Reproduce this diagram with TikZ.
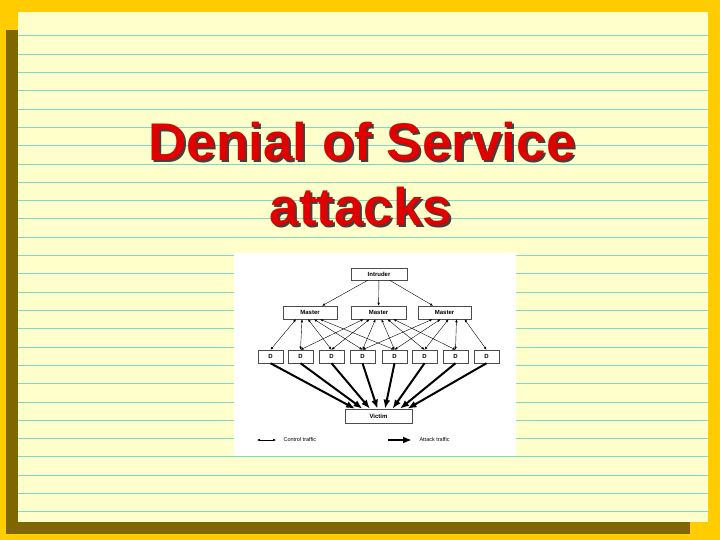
\documentclass[tikz,border=0pt]{standalone}
\usepackage{fontspec}
\setmainfont{Liberation Sans}
\usetikzlibrary{arrows.meta, positioning}
\definecolor{frame}{HTML}{FFCC00}
\definecolor{shadowbrown}{HTML}{806600}
\definecolor{paper}{HTML}{FFFFCC}
\definecolor{rule}{HTML}{7FD8C8}
\definecolor{titlered}{HTML}{E00000}
\begin{document}
\begin{tikzpicture}[x=1pt,y=-1pt]
	\tikzstyle{Box} = [
		draw=black!70, 
		fill=white,
		line width=0.5pt,
		inner sep=0pt,
		font=\fontsize{6}{6}\selectfont\bfseries
	]
	\tikzstyle{Ctrl} = [{Latex[length=3pt,width=2.5pt]}-{Latex[length=3pt,width=2.5pt]}, line width=0.4pt]
	\tikzstyle{Attack} = [-{Latex[length=9pt,width=7pt]}, line width=2pt]
	\tikzstyle{Title} = [font=\fontsize{53}{53}\selectfont\bfseries]

	%%%%%%%%%%===---BACKGROUND---===%%%%%%%%%%
	\fill[frame] (0,0) rectangle (720,540);
	\fill[shadowbrown] (6,30) rectangle (690,534);
	\fill[paper] (18,12) rectangle (708,522);
	\foreach \i in {0,...,26}
		\draw[rule, line width=1pt] (18,36+18.3*\i) -- (708,36+18.3*\i);

	%%%%%%%%%%===---TITLE---===%%%%%%%%%%
	\node (title1shadow) [Title, text=black!75] at (364,144) {Denial of Service};
	\node (title1) [Title, text=titlered] at (362,142) {Denial of Service};
	\node (title2shadow) [Title, text=black!75] at (363,209) {attacks};
	\node (title2) [Title, text=titlered] at (361,207) {attacks};

	%%%%%%%%%%===---DIAGRAM---===%%%%%%%%%%
	\fill[white] (234,253) rectangle (516,456);
	\node (intruder) [Box, minimum width=56pt, minimum height=12pt] at (379,274) {Intruder};
	\node (m1) [Box, minimum width=54pt, minimum height=13pt] at (310,312.5) {Master};
	\node (m2) [Box, minimum width=55pt, minimum height=13pt] at (378.5,312.5) {Master};
	\node (m3) [Box, minimum width=53pt, minimum height=13pt] at (444.5,312.5) {Master};
	\foreach \x [count=\i] in {270.5,300.5,331.5,362.5,394.5,424.5,455.5,486.5}
		\node (d\i) [Box, minimum width=25pt, minimum height=13pt] at (\x,356.5) {D};
	\node (victim) [Box, minimum width=67pt, minimum height=14pt] at (378.5,416) {Victim};

	\draw[-{Latex[length=3pt,width=2.5pt]}, line width=0.4pt] (intruder) -- (m1);
	\draw[-{Latex[length=3pt,width=2.5pt]}, line width=0.4pt] (intruder) -- (m2);
	\draw[-{Latex[length=3pt,width=2.5pt]}, line width=0.4pt] (intruder) -- (m3);

	\foreach \j in {1,...,5}
		\draw[Ctrl] (m1.south) ++(-20+6*\j,0) -- (d\j.north);
	\foreach \j in {2,...,7}
		\draw[Ctrl] (m2.south) ++(-27+6*\j,0) -- (d\j.north);
	\foreach \j in {4,...,8}
		\draw[Ctrl] (m3.south) ++(-44+8*\j,0) -- (d\j.north);

	\foreach \j in {1,...,8}
		\draw[Attack] (d\j.south) -- ([xshift=-31+7.5*\j]victim.north);

	%%%%%%%%%%===---LEGEND---===%%%%%%%%%%
	\coordinate (ctrlA) at (257,440);
	\coordinate (ctrlB) at (276,440);
	\draw[Ctrl] (ctrlA) -- (ctrlB);
	\node (ctrlText) [font=\fontsize{5.5}{5.5}\selectfont, right=4pt of ctrlB] {Control traffic};
	\coordinate (attA) at (388,440);
	\coordinate (attB) at (412,440);
	\draw[Attack] (attA) -- (attB);
	\node (attText) [font=\fontsize{5.5}{5.5}\selectfont, right=4pt of attB] {Attack traffic};
\end{tikzpicture}
\end{document}
